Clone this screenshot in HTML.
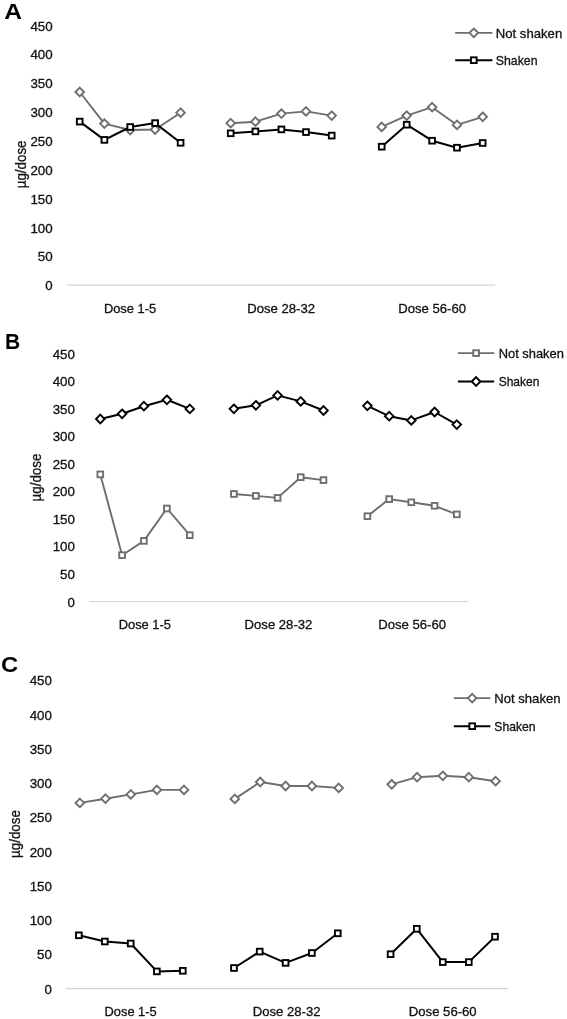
<!DOCTYPE html>
<html><head><meta charset="utf-8"><title>Figure</title>
<style>html,body{margin:0;padding:0;background:#fff}svg{display:block}
svg text{font-family:"Liberation Sans",sans-serif;font-size:13px;fill:#111;stroke:#111;stroke-width:0.3px}svg text.pl{font-weight:bold;font-size:22px;fill:#000;stroke:none}</style></head>
<body><svg width="567" height="1019" viewBox="0 0 567 1019">
<rect width="567" height="1019" fill="#fff"/>
<text x="4.3" y="19.4" class="pl" textLength="17.8" lengthAdjust="spacingAndGlyphs">A</text>
<text x="52.70" y="290.20" text-anchor="end" textLength="7.4" lengthAdjust="spacingAndGlyphs">0</text>
<text x="52.70" y="261.36" text-anchor="end" textLength="14.9" lengthAdjust="spacingAndGlyphs">50</text>
<text x="52.70" y="232.51" text-anchor="end" textLength="22.3" lengthAdjust="spacingAndGlyphs">100</text>
<text x="52.70" y="203.67" text-anchor="end" textLength="22.3" lengthAdjust="spacingAndGlyphs">150</text>
<text x="52.70" y="174.82" text-anchor="end" textLength="22.3" lengthAdjust="spacingAndGlyphs">200</text>
<text x="52.70" y="145.98" text-anchor="end" textLength="22.3" lengthAdjust="spacingAndGlyphs">250</text>
<text x="52.70" y="117.13" text-anchor="end" textLength="22.3" lengthAdjust="spacingAndGlyphs">300</text>
<text x="52.70" y="88.29" text-anchor="end" textLength="22.3" lengthAdjust="spacingAndGlyphs">350</text>
<text x="52.70" y="59.44" text-anchor="end" textLength="22.3" lengthAdjust="spacingAndGlyphs">400</text>
<text x="52.70" y="30.60" text-anchor="end" textLength="22.3" lengthAdjust="spacingAndGlyphs">450</text>
<line x1="67.05" y1="285.10" x2="495.11" y2="285.10" stroke="#d4d4d4" stroke-width="1.1"/>
<text x="130.00" y="312.70" text-anchor="middle" textLength="52.2" lengthAdjust="spacingAndGlyphs">Dose 1-5</text>
<text x="281.08" y="312.70" text-anchor="middle" textLength="67.8" lengthAdjust="spacingAndGlyphs">Dose 28-32</text>
<text x="432.16" y="312.70" text-anchor="middle" textLength="67.8" lengthAdjust="spacingAndGlyphs">Dose 56-60</text>
<text transform="translate(25.8,164.4) rotate(-90)" text-anchor="middle" style="font-size:14px" textLength="47.8" lengthAdjust="spacingAndGlyphs">µg/dose</text>
<polyline points="79.70,92.00 104.40,123.60 130.20,130.00 155.10,129.50 180.60,112.70" fill="none" stroke="#6e6e6e" stroke-width="1.9" stroke-linejoin="round"/>
<polygon points="79.70,87.70 84.00,92.00 79.70,96.30 75.40,92.00" fill="#fff" stroke="#6e6e6e" stroke-width="1.9" stroke-linejoin="miter"/>
<polygon points="104.40,119.30 108.70,123.60 104.40,127.90 100.10,123.60" fill="#fff" stroke="#6e6e6e" stroke-width="1.9" stroke-linejoin="miter"/>
<polygon points="130.20,125.70 134.50,130.00 130.20,134.30 125.90,130.00" fill="#fff" stroke="#6e6e6e" stroke-width="1.9" stroke-linejoin="miter"/>
<polygon points="155.10,125.20 159.40,129.50 155.10,133.80 150.80,129.50" fill="#fff" stroke="#6e6e6e" stroke-width="1.9" stroke-linejoin="miter"/>
<polygon points="180.60,108.40 184.90,112.70 180.60,117.00 176.30,112.70" fill="#fff" stroke="#6e6e6e" stroke-width="1.9" stroke-linejoin="miter"/>
<polyline points="230.70,123.20 255.40,121.70 281.40,113.60 306.00,111.40 331.70,115.60" fill="none" stroke="#6e6e6e" stroke-width="1.9" stroke-linejoin="round"/>
<polygon points="230.70,118.90 235.00,123.20 230.70,127.50 226.40,123.20" fill="#fff" stroke="#6e6e6e" stroke-width="1.9" stroke-linejoin="miter"/>
<polygon points="255.40,117.40 259.70,121.70 255.40,126.00 251.10,121.70" fill="#fff" stroke="#6e6e6e" stroke-width="1.9" stroke-linejoin="miter"/>
<polygon points="281.40,109.30 285.70,113.60 281.40,117.90 277.10,113.60" fill="#fff" stroke="#6e6e6e" stroke-width="1.9" stroke-linejoin="miter"/>
<polygon points="306.00,107.10 310.30,111.40 306.00,115.70 301.70,111.40" fill="#fff" stroke="#6e6e6e" stroke-width="1.9" stroke-linejoin="miter"/>
<polygon points="331.70,111.30 336.00,115.60 331.70,119.90 327.40,115.60" fill="#fff" stroke="#6e6e6e" stroke-width="1.9" stroke-linejoin="miter"/>
<polyline points="381.70,126.90 406.70,115.60 432.10,107.20 457.00,124.90 482.70,116.80" fill="none" stroke="#6e6e6e" stroke-width="1.9" stroke-linejoin="round"/>
<polygon points="381.70,122.60 386.00,126.90 381.70,131.20 377.40,126.90" fill="#fff" stroke="#6e6e6e" stroke-width="1.9" stroke-linejoin="miter"/>
<polygon points="406.70,111.30 411.00,115.60 406.70,119.90 402.40,115.60" fill="#fff" stroke="#6e6e6e" stroke-width="1.9" stroke-linejoin="miter"/>
<polygon points="432.10,102.90 436.40,107.20 432.10,111.50 427.80,107.20" fill="#fff" stroke="#6e6e6e" stroke-width="1.9" stroke-linejoin="miter"/>
<polygon points="457.00,120.60 461.30,124.90 457.00,129.20 452.70,124.90" fill="#fff" stroke="#6e6e6e" stroke-width="1.9" stroke-linejoin="miter"/>
<polygon points="482.70,112.50 487.00,116.80 482.70,121.10 478.40,116.80" fill="#fff" stroke="#6e6e6e" stroke-width="1.9" stroke-linejoin="miter"/>
<polyline points="79.70,121.60 104.40,139.90 130.20,127.00 155.10,123.10 180.60,142.80" fill="none" stroke="#000" stroke-width="2.0" stroke-linejoin="round"/>
<rect x="76.85" y="118.75" width="5.7" height="5.7" fill="#fff" stroke="#000" stroke-width="1.9"/>
<rect x="101.55" y="137.05" width="5.7" height="5.7" fill="#fff" stroke="#000" stroke-width="1.9"/>
<rect x="127.35" y="124.15" width="5.7" height="5.7" fill="#fff" stroke="#000" stroke-width="1.9"/>
<rect x="152.25" y="120.25" width="5.7" height="5.7" fill="#fff" stroke="#000" stroke-width="1.9"/>
<rect x="177.75" y="139.95" width="5.7" height="5.7" fill="#fff" stroke="#000" stroke-width="1.9"/>
<polyline points="230.70,133.30 255.40,131.40 281.40,129.40 306.00,132.10 331.70,135.60" fill="none" stroke="#000" stroke-width="2.0" stroke-linejoin="round"/>
<rect x="227.85" y="130.45" width="5.7" height="5.7" fill="#fff" stroke="#000" stroke-width="1.9"/>
<rect x="252.55" y="128.55" width="5.7" height="5.7" fill="#fff" stroke="#000" stroke-width="1.9"/>
<rect x="278.55" y="126.55" width="5.7" height="5.7" fill="#fff" stroke="#000" stroke-width="1.9"/>
<rect x="303.15" y="129.25" width="5.7" height="5.7" fill="#fff" stroke="#000" stroke-width="1.9"/>
<rect x="328.85" y="132.75" width="5.7" height="5.7" fill="#fff" stroke="#000" stroke-width="1.9"/>
<polyline points="381.70,146.70 406.70,124.70 432.10,140.70 457.00,147.70 482.70,143.00" fill="none" stroke="#000" stroke-width="2.0" stroke-linejoin="round"/>
<rect x="378.85" y="143.85" width="5.7" height="5.7" fill="#fff" stroke="#000" stroke-width="1.9"/>
<rect x="403.85" y="121.85" width="5.7" height="5.7" fill="#fff" stroke="#000" stroke-width="1.9"/>
<rect x="429.25" y="137.85" width="5.7" height="5.7" fill="#fff" stroke="#000" stroke-width="1.9"/>
<rect x="454.15" y="144.85" width="5.7" height="5.7" fill="#fff" stroke="#000" stroke-width="1.9"/>
<rect x="479.85" y="140.15" width="5.7" height="5.7" fill="#fff" stroke="#000" stroke-width="1.9"/>
<line x1="455.2" y1="32.8" x2="492.4" y2="32.8" stroke="#6e6e6e" stroke-width="1.8"/>
<polygon points="473.80,28.50 478.10,32.80 473.80,37.10 469.50,32.80" fill="#fff" stroke="#6e6e6e" stroke-width="1.9" stroke-linejoin="miter"/>
<text x="495.80" y="37.50" text-anchor="start" textLength="66.4" lengthAdjust="spacingAndGlyphs">Not shaken</text>
<line x1="455.2" y1="60.2" x2="492.4" y2="60.2" stroke="#000" stroke-width="2"/>
<rect x="470.95" y="57.35" width="5.7" height="5.7" fill="#fff" stroke="#000" stroke-width="1.9"/>
<text x="495.80" y="65.00" text-anchor="start" textLength="41.7" lengthAdjust="spacingAndGlyphs">Shaken</text>
<text x="5.0" y="349.2" class="pl" textLength="15.2" lengthAdjust="spacingAndGlyphs">B</text>
<text x="75.00" y="606.60" text-anchor="end" textLength="7.4" lengthAdjust="spacingAndGlyphs">0</text>
<text x="75.00" y="579.04" text-anchor="end" textLength="14.9" lengthAdjust="spacingAndGlyphs">50</text>
<text x="75.00" y="551.49" text-anchor="end" textLength="22.3" lengthAdjust="spacingAndGlyphs">100</text>
<text x="75.00" y="523.93" text-anchor="end" textLength="22.3" lengthAdjust="spacingAndGlyphs">150</text>
<text x="75.00" y="496.38" text-anchor="end" textLength="22.3" lengthAdjust="spacingAndGlyphs">200</text>
<text x="75.00" y="468.82" text-anchor="end" textLength="22.3" lengthAdjust="spacingAndGlyphs">250</text>
<text x="75.00" y="441.27" text-anchor="end" textLength="22.3" lengthAdjust="spacingAndGlyphs">300</text>
<text x="75.00" y="413.71" text-anchor="end" textLength="22.3" lengthAdjust="spacingAndGlyphs">350</text>
<text x="75.00" y="386.16" text-anchor="end" textLength="22.3" lengthAdjust="spacingAndGlyphs">400</text>
<text x="75.00" y="358.60" text-anchor="end" textLength="22.3" lengthAdjust="spacingAndGlyphs">450</text>
<line x1="89.1" y1="601.50" x2="467.86" y2="601.50" stroke="#d4d4d4" stroke-width="1.1"/>
<text x="144.80" y="629.20" text-anchor="middle" textLength="52.2" lengthAdjust="spacingAndGlyphs">Dose 1-5</text>
<text x="278.48" y="629.20" text-anchor="middle" textLength="67.8" lengthAdjust="spacingAndGlyphs">Dose 28-32</text>
<text x="412.16" y="629.20" text-anchor="middle" textLength="67.8" lengthAdjust="spacingAndGlyphs">Dose 56-60</text>
<text transform="translate(41.4,477.5) rotate(-90)" text-anchor="middle" style="font-size:14px" textLength="47.8" lengthAdjust="spacingAndGlyphs">µg/dose</text>
<polyline points="100.30,474.40 122.10,555.20 143.90,540.90 166.90,508.50 189.80,535.20" fill="none" stroke="#6e6e6e" stroke-width="1.9" stroke-linejoin="round"/>
<rect x="97.45" y="471.55" width="5.7" height="5.7" fill="#fff" stroke="#6e6e6e" stroke-width="1.9"/>
<rect x="119.25" y="552.35" width="5.7" height="5.7" fill="#fff" stroke="#6e6e6e" stroke-width="1.9"/>
<rect x="141.05" y="538.05" width="5.7" height="5.7" fill="#fff" stroke="#6e6e6e" stroke-width="1.9"/>
<rect x="164.05" y="505.65" width="5.7" height="5.7" fill="#fff" stroke="#6e6e6e" stroke-width="1.9"/>
<rect x="186.95" y="532.35" width="5.7" height="5.7" fill="#fff" stroke="#6e6e6e" stroke-width="1.9"/>
<polyline points="233.90,494.00 255.90,495.90 277.60,497.90 300.70,477.20 323.50,480.10" fill="none" stroke="#6e6e6e" stroke-width="1.9" stroke-linejoin="round"/>
<rect x="231.05" y="491.15" width="5.7" height="5.7" fill="#fff" stroke="#6e6e6e" stroke-width="1.9"/>
<rect x="253.05" y="493.05" width="5.7" height="5.7" fill="#fff" stroke="#6e6e6e" stroke-width="1.9"/>
<rect x="274.75" y="495.05" width="5.7" height="5.7" fill="#fff" stroke="#6e6e6e" stroke-width="1.9"/>
<rect x="297.85" y="474.35" width="5.7" height="5.7" fill="#fff" stroke="#6e6e6e" stroke-width="1.9"/>
<rect x="320.65" y="477.25" width="5.7" height="5.7" fill="#fff" stroke="#6e6e6e" stroke-width="1.9"/>
<polyline points="367.40,516.20 389.20,499.10 411.30,502.30 434.60,505.80 456.80,514.40" fill="none" stroke="#6e6e6e" stroke-width="1.9" stroke-linejoin="round"/>
<rect x="364.55" y="513.35" width="5.7" height="5.7" fill="#fff" stroke="#6e6e6e" stroke-width="1.9"/>
<rect x="386.35" y="496.25" width="5.7" height="5.7" fill="#fff" stroke="#6e6e6e" stroke-width="1.9"/>
<rect x="408.45" y="499.45" width="5.7" height="5.7" fill="#fff" stroke="#6e6e6e" stroke-width="1.9"/>
<rect x="431.75" y="502.95" width="5.7" height="5.7" fill="#fff" stroke="#6e6e6e" stroke-width="1.9"/>
<rect x="453.95" y="511.55" width="5.7" height="5.7" fill="#fff" stroke="#6e6e6e" stroke-width="1.9"/>
<polyline points="100.30,419.00 122.10,413.80 143.90,406.20 166.90,399.80 189.80,408.90" fill="none" stroke="#000" stroke-width="2.0" stroke-linejoin="round"/>
<polygon points="100.30,414.70 104.60,419.00 100.30,423.30 96.00,419.00" fill="#fff" stroke="#000" stroke-width="1.9" stroke-linejoin="miter"/>
<polygon points="122.10,409.50 126.40,413.80 122.10,418.10 117.80,413.80" fill="#fff" stroke="#000" stroke-width="1.9" stroke-linejoin="miter"/>
<polygon points="143.90,401.90 148.20,406.20 143.90,410.50 139.60,406.20" fill="#fff" stroke="#000" stroke-width="1.9" stroke-linejoin="miter"/>
<polygon points="166.90,395.50 171.20,399.80 166.90,404.10 162.60,399.80" fill="#fff" stroke="#000" stroke-width="1.9" stroke-linejoin="miter"/>
<polygon points="189.80,404.60 194.10,408.90 189.80,413.20 185.50,408.90" fill="#fff" stroke="#000" stroke-width="1.9" stroke-linejoin="miter"/>
<polyline points="233.90,408.80 255.90,405.30 277.60,395.40 300.70,401.40 323.50,410.50" fill="none" stroke="#000" stroke-width="2.0" stroke-linejoin="round"/>
<polygon points="233.90,404.50 238.20,408.80 233.90,413.10 229.60,408.80" fill="#fff" stroke="#000" stroke-width="1.9" stroke-linejoin="miter"/>
<polygon points="255.90,401.00 260.20,405.30 255.90,409.60 251.60,405.30" fill="#fff" stroke="#000" stroke-width="1.9" stroke-linejoin="miter"/>
<polygon points="277.60,391.10 281.90,395.40 277.60,399.70 273.30,395.40" fill="#fff" stroke="#000" stroke-width="1.9" stroke-linejoin="miter"/>
<polygon points="300.70,397.10 305.00,401.40 300.70,405.70 296.40,401.40" fill="#fff" stroke="#000" stroke-width="1.9" stroke-linejoin="miter"/>
<polygon points="323.50,406.20 327.80,410.50 323.50,414.80 319.20,410.50" fill="#fff" stroke="#000" stroke-width="1.9" stroke-linejoin="miter"/>
<polyline points="367.40,405.80 389.20,416.20 411.30,420.40 434.60,412.00 456.80,424.60" fill="none" stroke="#000" stroke-width="2.0" stroke-linejoin="round"/>
<polygon points="367.40,401.50 371.70,405.80 367.40,410.10 363.10,405.80" fill="#fff" stroke="#000" stroke-width="1.9" stroke-linejoin="miter"/>
<polygon points="389.20,411.90 393.50,416.20 389.20,420.50 384.90,416.20" fill="#fff" stroke="#000" stroke-width="1.9" stroke-linejoin="miter"/>
<polygon points="411.30,416.10 415.60,420.40 411.30,424.70 407.00,420.40" fill="#fff" stroke="#000" stroke-width="1.9" stroke-linejoin="miter"/>
<polygon points="434.60,407.70 438.90,412.00 434.60,416.30 430.30,412.00" fill="#fff" stroke="#000" stroke-width="1.9" stroke-linejoin="miter"/>
<polygon points="456.80,420.30 461.10,424.60 456.80,428.90 452.50,424.60" fill="#fff" stroke="#000" stroke-width="1.9" stroke-linejoin="miter"/>
<line x1="457.9" y1="353.1" x2="494.2" y2="353.1" stroke="#6e6e6e" stroke-width="1.8"/>
<rect x="473.25" y="350.25" width="5.7" height="5.7" fill="#fff" stroke="#6e6e6e" stroke-width="1.9"/>
<text x="498.70" y="358.40" text-anchor="start" textLength="65.2" lengthAdjust="spacingAndGlyphs">Not shaken</text>
<line x1="457.9" y1="381.5" x2="494.2" y2="381.5" stroke="#000" stroke-width="2"/>
<polygon points="476.10,377.20 480.40,381.50 476.10,385.80 471.80,381.50" fill="#fff" stroke="#000" stroke-width="1.9" stroke-linejoin="miter"/>
<text x="498.70" y="386.20" text-anchor="start" textLength="40.7" lengthAdjust="spacingAndGlyphs">Shaken</text>
<text x="1.0" y="672.3" class="pl" textLength="17.2" lengthAdjust="spacingAndGlyphs">C</text>
<text x="52.00" y="993.70" text-anchor="end" textLength="7.4" lengthAdjust="spacingAndGlyphs">0</text>
<text x="52.00" y="959.44" text-anchor="end" textLength="14.9" lengthAdjust="spacingAndGlyphs">50</text>
<text x="52.00" y="925.19" text-anchor="end" textLength="22.3" lengthAdjust="spacingAndGlyphs">100</text>
<text x="52.00" y="890.93" text-anchor="end" textLength="22.3" lengthAdjust="spacingAndGlyphs">150</text>
<text x="52.00" y="856.68" text-anchor="end" textLength="22.3" lengthAdjust="spacingAndGlyphs">200</text>
<text x="52.00" y="822.42" text-anchor="end" textLength="22.3" lengthAdjust="spacingAndGlyphs">250</text>
<text x="52.00" y="788.17" text-anchor="end" textLength="22.3" lengthAdjust="spacingAndGlyphs">300</text>
<text x="52.00" y="753.91" text-anchor="end" textLength="22.3" lengthAdjust="spacingAndGlyphs">350</text>
<text x="52.00" y="719.66" text-anchor="end" textLength="22.3" lengthAdjust="spacingAndGlyphs">400</text>
<text x="52.00" y="685.40" text-anchor="end" textLength="22.3" lengthAdjust="spacingAndGlyphs">450</text>
<line x1="65.6" y1="988.60" x2="507.77" y2="988.60" stroke="#d4d4d4" stroke-width="1.1"/>
<text x="130.62" y="1016.00" text-anchor="middle" textLength="52.2" lengthAdjust="spacingAndGlyphs">Dose 1-5</text>
<text x="286.69" y="1016.00" text-anchor="middle" textLength="67.8" lengthAdjust="spacingAndGlyphs">Dose 28-32</text>
<text x="442.75" y="1016.00" text-anchor="middle" textLength="67.8" lengthAdjust="spacingAndGlyphs">Dose 56-60</text>
<text transform="translate(20.1,834.0) rotate(-90)" text-anchor="middle" style="font-size:14px" textLength="47.8" lengthAdjust="spacingAndGlyphs">µg/dose</text>
<polyline points="79.85,802.90 105.45,798.70 130.80,794.40 156.90,789.90 184.00,789.90" fill="none" stroke="#6e6e6e" stroke-width="1.9" stroke-linejoin="round"/>
<polygon points="79.85,798.60 84.15,802.90 79.85,807.20 75.55,802.90" fill="#fff" stroke="#6e6e6e" stroke-width="1.9" stroke-linejoin="miter"/>
<polygon points="105.45,794.40 109.75,798.70 105.45,803.00 101.15,798.70" fill="#fff" stroke="#6e6e6e" stroke-width="1.9" stroke-linejoin="miter"/>
<polygon points="130.80,790.10 135.10,794.40 130.80,798.70 126.50,794.40" fill="#fff" stroke="#6e6e6e" stroke-width="1.9" stroke-linejoin="miter"/>
<polygon points="156.90,785.60 161.20,789.90 156.90,794.20 152.60,789.90" fill="#fff" stroke="#6e6e6e" stroke-width="1.9" stroke-linejoin="miter"/>
<polygon points="184.00,785.60 188.30,789.90 184.00,794.20 179.70,789.90" fill="#fff" stroke="#6e6e6e" stroke-width="1.9" stroke-linejoin="miter"/>
<polyline points="234.80,798.90 260.20,782.00 285.60,786.00 311.90,786.00 338.70,787.90" fill="none" stroke="#6e6e6e" stroke-width="1.9" stroke-linejoin="round"/>
<polygon points="234.80,794.60 239.10,798.90 234.80,803.20 230.50,798.90" fill="#fff" stroke="#6e6e6e" stroke-width="1.9" stroke-linejoin="miter"/>
<polygon points="260.20,777.70 264.50,782.00 260.20,786.30 255.90,782.00" fill="#fff" stroke="#6e6e6e" stroke-width="1.9" stroke-linejoin="miter"/>
<polygon points="285.60,781.70 289.90,786.00 285.60,790.30 281.30,786.00" fill="#fff" stroke="#6e6e6e" stroke-width="1.9" stroke-linejoin="miter"/>
<polygon points="311.90,781.70 316.20,786.00 311.90,790.30 307.60,786.00" fill="#fff" stroke="#6e6e6e" stroke-width="1.9" stroke-linejoin="miter"/>
<polygon points="338.70,783.60 343.00,787.90 338.70,792.20 334.40,787.90" fill="#fff" stroke="#6e6e6e" stroke-width="1.9" stroke-linejoin="miter"/>
<polyline points="391.70,784.30 417.10,777.20 442.80,775.80 468.80,777.20 495.60,781.20" fill="none" stroke="#6e6e6e" stroke-width="1.9" stroke-linejoin="round"/>
<polygon points="391.70,780.00 396.00,784.30 391.70,788.60 387.40,784.30" fill="#fff" stroke="#6e6e6e" stroke-width="1.9" stroke-linejoin="miter"/>
<polygon points="417.10,772.90 421.40,777.20 417.10,781.50 412.80,777.20" fill="#fff" stroke="#6e6e6e" stroke-width="1.9" stroke-linejoin="miter"/>
<polygon points="442.80,771.50 447.10,775.80 442.80,780.10 438.50,775.80" fill="#fff" stroke="#6e6e6e" stroke-width="1.9" stroke-linejoin="miter"/>
<polygon points="468.80,772.90 473.10,777.20 468.80,781.50 464.50,777.20" fill="#fff" stroke="#6e6e6e" stroke-width="1.9" stroke-linejoin="miter"/>
<polygon points="495.60,776.90 499.90,781.20 495.60,785.50 491.30,781.20" fill="#fff" stroke="#6e6e6e" stroke-width="1.9" stroke-linejoin="miter"/>
<polyline points="78.85,935.30 104.85,941.50 130.70,943.50 156.85,971.40 182.80,970.80" fill="none" stroke="#000" stroke-width="2.0" stroke-linejoin="round"/>
<rect x="76.00" y="932.45" width="5.7" height="5.7" fill="#fff" stroke="#000" stroke-width="1.9"/>
<rect x="102.00" y="938.65" width="5.7" height="5.7" fill="#fff" stroke="#000" stroke-width="1.9"/>
<rect x="127.85" y="940.65" width="5.7" height="5.7" fill="#fff" stroke="#000" stroke-width="1.9"/>
<rect x="154.00" y="968.55" width="5.7" height="5.7" fill="#fff" stroke="#000" stroke-width="1.9"/>
<rect x="179.95" y="967.95" width="5.7" height="5.7" fill="#fff" stroke="#000" stroke-width="1.9"/>
<polyline points="234.00,968.00 259.70,951.60 285.60,962.90 311.90,953.00 337.80,933.30" fill="none" stroke="#000" stroke-width="2.0" stroke-linejoin="round"/>
<rect x="231.15" y="965.15" width="5.7" height="5.7" fill="#fff" stroke="#000" stroke-width="1.9"/>
<rect x="256.85" y="948.75" width="5.7" height="5.7" fill="#fff" stroke="#000" stroke-width="1.9"/>
<rect x="282.75" y="960.05" width="5.7" height="5.7" fill="#fff" stroke="#000" stroke-width="1.9"/>
<rect x="309.05" y="950.15" width="5.7" height="5.7" fill="#fff" stroke="#000" stroke-width="1.9"/>
<rect x="334.95" y="930.45" width="5.7" height="5.7" fill="#fff" stroke="#000" stroke-width="1.9"/>
<polyline points="390.60,954.20 416.80,928.80 442.80,962.10 468.80,962.10 495.00,936.70" fill="none" stroke="#000" stroke-width="2.0" stroke-linejoin="round"/>
<rect x="387.75" y="951.35" width="5.7" height="5.7" fill="#fff" stroke="#000" stroke-width="1.9"/>
<rect x="413.95" y="925.95" width="5.7" height="5.7" fill="#fff" stroke="#000" stroke-width="1.9"/>
<rect x="439.95" y="959.25" width="5.7" height="5.7" fill="#fff" stroke="#000" stroke-width="1.9"/>
<rect x="465.95" y="959.25" width="5.7" height="5.7" fill="#fff" stroke="#000" stroke-width="1.9"/>
<rect x="492.15" y="933.85" width="5.7" height="5.7" fill="#fff" stroke="#000" stroke-width="1.9"/>
<line x1="453.8" y1="698.1" x2="490.4" y2="698.1" stroke="#6e6e6e" stroke-width="1.8"/>
<polygon points="472.20,693.80 476.50,698.10 472.20,702.40 467.90,698.10" fill="#fff" stroke="#6e6e6e" stroke-width="1.9" stroke-linejoin="miter"/>
<text x="494.30" y="703.00" text-anchor="start" textLength="66.2" lengthAdjust="spacingAndGlyphs">Not shaken</text>
<line x1="453.8" y1="726.2" x2="490.4" y2="726.2" stroke="#000" stroke-width="2"/>
<rect x="469.35" y="723.35" width="5.7" height="5.7" fill="#fff" stroke="#000" stroke-width="1.9"/>
<text x="494.30" y="730.90" text-anchor="start" textLength="41.3" lengthAdjust="spacingAndGlyphs">Shaken</text>
</svg></body></html>
